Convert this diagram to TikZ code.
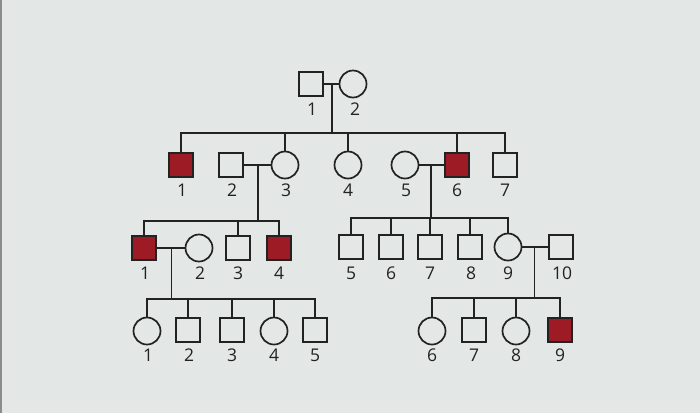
\documentclass[tikz,border=0pt]{standalone}
\usepackage{fontspec}
\setmainfont{Open Sans}
\usetikzlibrary{calc}
\definecolor{bg}{HTML}{E3E8E6}
\definecolor{aff}{HTML}{9C1B25}
\definecolor{ink}{HTML}{222222}
\tikzset{
  x=1pt, y=-1pt,
  male/.style={draw=ink, line width=1.7pt, minimum size=24pt, inner sep=0pt, rectangle},
  malea/.style={draw=ink, line width=1.7pt, minimum size=24pt, inner sep=0pt, rectangle, fill=aff},
  female/.style={draw=ink, line width=1.7pt, minimum size=27pt, inner sep=0pt, circle},
  lab/.style={font=\fontsize{17.5}{17.5}\selectfont, text=ink, inner sep=0pt},
  ln/.style={draw=ink, line width=1.7pt}
}
\begin{document}
\begin{tikzpicture}
\fill[bg] (0,0) rectangle (700,413);
\fill[black!45] (0,0) rectangle (2,413);
\useasboundingbox (0,0) rectangle (700,413);
% Generation I
\node[male] (I1) at (311,84) {};
\node[female] (I2) at (353,84) {};
% Generation II
\node[malea] (II1) at (181,165) {};
\node[male] (II2) at (231,165) {};
\node[female] (II3) at (285,165) {};
\node[female] (II4) at (348,165) {};
\node[female] (II5) at (405,165) {};
\node[malea] (II6) at (457,165) {};
\node[male] (II7) at (505,165) {};
% Generation III
\node[malea] (III1) at (144,248) {};
\node[female] (III2) at (199,248) {};
\node[male] (III3) at (238,248) {};
\node[malea] (III4) at (279,248) {};
\node[male] (III5) at (351,247) {};
\node[male] (III6) at (391,247) {};
\node[male] (III7) at (430,247) {};
\node[male] (III8) at (470,247) {};
\node[female] (III9) at (508,247) {};
\node[male] (III10) at (561,247) {};
% Generation IV
\node[female] (IV1) at (147,331) {};
\node[male] (IV2) at (188,330) {};
\node[male] (IV3) at (232,330) {};
\node[female] (IV4) at (274,331) {};
\node[male] (IV5) at (315,330) {};
\node[female] (IV6) at (432,331) {};
\node[male] (IV7) at (474,330) {};
\node[female] (IV8) at (516,331) {};
\node[malea] (IV9) at (560,330) {};
% labels
\node[lab] (lI1) at (312,109) {1};
\node[lab] (lI2) at (355,109) {2};
\node[lab] (lII1) at (182,190) {1};
\node[lab] (lII2) at (232,190) {2};
\node[lab] (lII3) at (286,190) {3};
\node[lab] (lII4) at (348,190) {4};
\node[lab] (lII5) at (406,190) {5};
\node[lab] (lII6) at (457,190) {6};
\node[lab] (lII7) at (505,190) {7};
\node[lab] (lIII1) at (145,273) {1};
\node[lab] (lIII2) at (200,273) {2};
\node[lab] (lIII3) at (238,273) {3};
\node[lab] (lIII4) at (279,273) {4};
\node[lab] (lIII5) at (351,273) {5};
\node[lab] (lIII6) at (391,273) {6};
\node[lab] (lIII7) at (430,273) {7};
\node[lab] (lIII8) at (471,273) {8};
\node[lab] (lIII9) at (508,273) {9};
\node[lab] (lIII10) at (562,273) {10};
\node[lab] (lIV1) at (148,355) {1};
\node[lab] (lIV2) at (189,355) {2};
\node[lab] (lIV3) at (232,355) {3};
\node[lab] (lIV4) at (274,355) {4};
\node[lab] (lIV5) at (315,355) {5};
\node[lab] (lIV6) at (432,355) {6};
\node[lab] (lIV7) at (474,355) {7};
\node[lab] (lIV8) at (516,355) {8};
\node[lab] (lIV9) at (560,355) {9};
% marriages
\coordinate (m1) at ($(I1)!0.5!(I2)$);
\coordinate (m2) at ($(II2)!0.5!(II3)$);
\coordinate (m3) at ($(II5)!0.5!(II6)$);
\coordinate (m4) at ($(III1)!0.5!(III2)$);
\coordinate (m5) at ($(III9)!0.5!(III10)$);
\coordinate (s1) at (0,133);
\coordinate (s2) at (0,221);
\coordinate (s3) at (0,218);
\coordinate (s4) at (0,299);
\coordinate (s5) at (0,298);
\draw[ln] (I1) -- (I2);
\draw[ln] (II2) -- (II3);
\draw[ln] (II5) -- (II6);
\draw[ln] (III1) -- (III2);
\draw[ln] (III9) -- (III10);
% descents
\draw[ln] (m1) -- (m1 |- s1);
\draw[ln] (m2) -- (m2 |- s2);
\draw[ln] (m3) -- (m3 |- s3);
\draw[ln] (m4) -- (m4 |- s4);
\draw[ln] (m5) -- (m5 |- s5);
% sibships
\draw[ln] (II1.north) |- (II7.north |- s1) -- (II7.north);
\foreach \c in {II3,II4,II6} \draw[ln] (\c.north) -- (\c.north |- s1);
\draw[ln] (III1.north) |- (III4.north |- s2) -- (III4.north);
\draw[ln] (III3.north) -- (III3.north |- s2);
\draw[ln] (III5.north) |- (III9.north |- s3) -- (III9.north);
\foreach \c in {III6,III7,III8} \draw[ln] (\c.north) -- (\c.north |- s3);
\draw[ln] (IV1.north) |- (IV5.north |- s4) -- (IV5.north);
\foreach \c in {IV2,IV3,IV4} \draw[ln] (\c.north) -- (\c.north |- s4);
\draw[ln] (IV6.north) |- (IV9.north |- s5) -- (IV9.north);
\foreach \c in {IV7,IV8} \draw[ln] (\c.north) -- (\c.north |- s5);
\end{tikzpicture}
\end{document}
